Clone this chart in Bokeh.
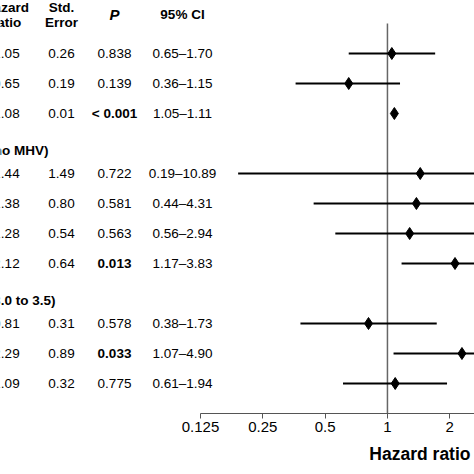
from bokeh.plotting import figure
from bokeh.models import Range1d, LinearScale, FixedTicker, Title, ColumnDataSource
from bokeh.core.properties import value
from bokeh.embed import file_html
from bokeh.resources import INLINE

# ---- data ----
group_headers = ["Prosthetic valve (MHV vs no MHV)", "Target INR (3.0 to 3.5)"]
group_sizes = [3, 4, 3]
hr = [1.05, 0.65, 1.08, 1.44, 1.38, 1.28, 2.12, 0.81, 2.29, 1.09]
hr_text = ["1.05", "0.65", "1.08", "1.44", "1.38", "1.28", "2.12", "0.81", "2.29", "1.09"]
std_err = ["0.26", "0.19", "0.01", "1.49", "0.80", "0.54", "0.64", "0.31", "0.89", "0.32"]
p_text = ["0.838", "0.139", "< 0.001", "0.722", "0.581", "0.563", "0.013", "0.578", "0.033", "0.775"]
p_bold = [False, False, True, False, False, False, True, False, True, False]
ci_low = [0.65, 0.36, 1.05, 0.19, 0.44, 0.56, 1.17, 0.38, 1.07, 0.61]
ci_high = [1.70, 1.15, 1.11, 10.89, 4.31, 2.94, 3.83, 1.73, 4.90, 1.94]
tick_values = [0.125, 0.25, 0.5, 1, 2]
tick_labels = ["0.125", "0.25", "0.5", "1", "2"]

# ---- row slots (one empty slot per group header) ----
slots = []
header_slots = []
k = 0
for gi, n in enumerate(group_sizes):
    if gi > 0:
        header_slots.append(k)
        k += 1
    for _ in range(n):
        slots.append(k)
        k += 1

FONT = value("Liberation Sans")

p = figure(width=474, height=474, x_axis_type="log",
           x_range=Range1d(0.01352, 2.633), y_range=Range1d(12.0, -1.767),
           output_backend="svg", toolbar_location=None, y_axis_location=None,
           min_border=0, min_border_bottom=61)
p.extra_x_ranges = {"px": Range1d(0, 474)}
p.extra_x_scales = {"px": LinearScale()}
p.outline_line_color = None
p.xgrid.visible = False
p.ygrid.visible = False
p.background_fill_color = "white"
p.border_fill_color = "white"

# reference line at HR = 1
p.segment(x0=[1], x1=[1], y0=[-1.0], y1=[20], line_color="#666666", line_width=1.5)

# CIs and point estimates
src = ColumnDataSource(dict(y=slots, hr=hr, lo=ci_low, hi=ci_high))
p.segment(x0="lo", x1="hi", y0="y", y1="y", source=src, line_color="black", line_width=2)
p.scatter(x="hr", y="y", source=src, marker="diamond", size=12,
          fill_color="black", line_color="black", line_width=1)

# text columns (pixel-like x range)
col_hr, col_se, col_p, col_ci = 6, 61, 114, 182
ci_text = [f"{a:.2f}\u2013{b:.2f}" for a, b in zip(ci_low, ci_high)]
fs = "13.5px"

def txt(x, y, t, style="normal", align="center", size=fs):
    s = ColumnDataSource(dict(x=x, y=y, t=t))
    p.text(x="x", y="y", text="t", source=s, x_range_name="px",
           text_font=FONT, text_font_size=size, text_font_style=style,
           text_align=align, text_baseline="middle", text_color="black")

n = len(slots)
txt([col_hr] * n, slots, hr_text)
txt([col_se] * n, slots, std_err)
txt([col_p] * sum(not b for b in p_bold), [s for s, b in zip(slots, p_bold) if not b],
    [t for t, b in zip(p_text, p_bold) if not b])
txt([col_p] * sum(p_bold), [s for s, b in zip(slots, p_bold) if b],
    [t for t, b in zip(p_text, p_bold) if b], style="bold")
txt([col_ci] * n, slots, ci_text)

# column headers
txt([col_hr, col_se], [-1.517, -1.517], ["Hazard", "Std."], style="bold")
txt([col_hr, col_se], [-1.033, -1.033], ["ratio", "Error"], style="bold")
txt([col_p], [-1.3], ["P"], style="bold italic", size="15px")
txt([col_ci], [-1.3], ["95% CI"], style="bold")

# group headers
txt([48, 55], [h + 0.233 for h in header_slots], group_headers, style="bold", align="right")

# axis
ax = p.xaxis[0]
ax.ticker = FixedTicker(ticks=tick_values)
ax.major_label_overrides = {v: l for v, l in zip(tick_values, tick_labels)}
ax.bounds = (0.125, 1000)
ax.minor_tick_line_color = None
ax.major_tick_in = 0
ax.major_tick_out = 5
ax.major_label_standoff = 3
ax.axis_line_color = "#555555"
ax.major_tick_line_color = "#555555"
ax.major_label_text_font = "Liberation Sans"
ax.major_label_text_font_size = "15px"
ax.major_label_text_color = "black"

p.add_layout(Title(text="Hazard ratio", align="right", offset=4, standoff=14,
                   text_font="Liberation Sans",
                   text_font_size="17.5px", text_font_style="bold",
                   text_color="black"), "below")

open("out.html", "w").write(file_html(p, INLINE))
